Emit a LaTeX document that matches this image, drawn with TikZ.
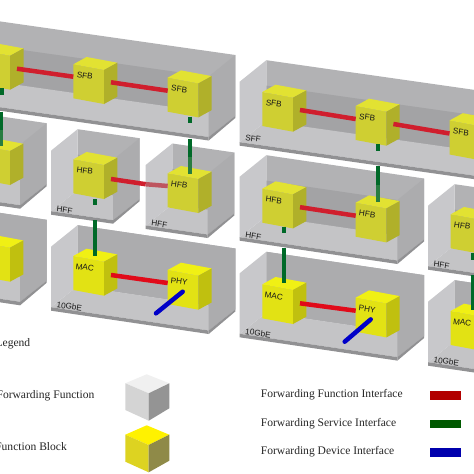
\documentclass[tikz,border=0pt]{standalone}
\usepackage{fontspec}
\setmainfont{Liberation Serif}
\newfontfamily\lblfont{Liberation Sans}
\usetikzlibrary{calc}
\definecolor{wallback}{RGB}{172,172,174}
\definecolor{wallband}{RGB}{163,163,165}
\definecolor{walltop}{RGB}{178,178,180}
\definecolor{wallleft}{RGB}{200,200,203}
\definecolor{floorc}{RGB}{196,196,198}
\definecolor{wallright}{RGB}{172,172,174}
\definecolor{stripc}{RGB}{145,145,147}
\definecolor{dullfront}{RGB}{207,207,50}
\definecolor{dulltop}{RGB}{226,226,50}
\definecolor{dullright}{RGB}{176,176,42}
\definecolor{brfront}{RGB}{226,226,20}
\definecolor{brtop}{RGB}{240,240,20}
\definecolor{brright}{RGB}{192,192,15}
\definecolor{barred}{RGB}{208,30,45}
\definecolor{barredb}{RGB}{225,10,25}
\definecolor{barredw}{RGB}{190,85,95}
\definecolor{bargreen}{RGB}{0,105,40}
\definecolor{bargreenl}{RGB}{40,125,65}
\definecolor{barblue}{RGB}{0,0,200}
\tikzset{
  redbar/.style={draw=barred,line width=4.5pt},
  redbarb/.style={draw=barredb,line width=4.5pt},
  redbarw/.style={draw=barredw,line width=4.5pt},
  greenbar/.style={draw=bargreen,line width=4.3pt},
  greenbarl/.style={draw=bargreenl,line width=4.3pt},
  bluebar/.style={draw=barblue,line width=4.5pt,line cap=round},
  cubelabel/.style={font=\lblfont\fontsize{8.2}{9}\selectfont,text=black!90,inner sep=0pt,rotate=-8},
  roomlabel/.style={font=\lblfont\fontsize{8.2}{9}\selectfont,text=black!90,inner sep=0pt,rotate=-8,anchor=west},
  legendtext/.style={font=\fontsize{11.55}{13}\selectfont,text=black!85,inner sep=0pt,anchor=base west},
}
\newcommand{\roomshape}[6]{%
  \coordinate (#1) at (#2,#3);
  \path
    coordinate (#1F) at (#1)
    coordinate (#1BLT) at ($(#1)+(26.6,-21.5)$)
    coordinate (#1BRT) at ($(#1)+(26.6,-21.5)+(#4,#5)$)
    coordinate (#1FRT) at ($(#1)+(#4,#5)$)
    coordinate (#1BLB) at ($(#1)+(26.6,39.5)$)
    coordinate (#1BRB) at ($(#1)+(26.6,39.5)+(#4,#5)$)
    coordinate (#1FLB) at ($(#1)+(0,64)$)
    coordinate (#1FRB) at ($(#1)+(0,64)+(#4,#5)$)
    coordinate (#1FLS) at ($(#1)+(0,60.5)$)
    coordinate (#1FRS) at ($(#1)+(0,60.5)+(#4,#5)$);
  \fill[walltop] (#1BLT)--(#1BRT)--(#1BRB)--(#1BLB)--cycle;
  \ifnum#6=1
    \fill[wallband] (#1BLT|-#1F) ++(0,3.9) -- ($(#1FRT)$) -- (#1FRT|-#1BRB) -- (#1BLB)--cycle;
  \else
    \fill[wallback] (#1BLT)--(#1BRT)--(#1BRB)--(#1BLB)--cycle;
  \fi
  \fill[floorc] (#1BLB)--(#1BRB)--(#1FRS)--(#1FLS)--cycle;
  \fill[wallright] (#1BRT)--(#1BRB)--(#1FRS)--(#1FRT)--cycle;
  \fill[wallleft] (#1F)--(#1BLT)--(#1BLB)--(#1FLS)--cycle;
  \fill[stripc] (#1FLS)--(#1FRS)--(#1FRB)--(#1FLB)--cycle;
  \fill[stripc] (#1FRS)--(#1BRB)--++(0,2)--(#1FRB)--cycle;
}
\newcommand{\cubeshape}[4]{%
  \coordinate (#1) at (#2,#3);
  \ifnum#4=1
    \def\cf{dullfront}\def\ct{dulltop}\def\cr{dullright}
  \else
    \def\cf{brfront}\def\ct{brtop}\def\cr{brright}
  \fi
  \fill[\cf] (#1) -- ++(30.7,5.7) -- ++(0,34) -- ++(-30.7,-5.7) -- cycle;
  \fill[\ct] (#1) -- ++(13.3,-7.3) -- ++(30.7,5.7) -- ++(-13.3,7.3) -- cycle;
  \fill[\cr] ($(#1)+(30.7,5.7)$) -- ++(13.3,-7.3) -- ++(0,34) -- ++(-13.3,7.3) -- cycle;
}
\begin{document}
\begin{tikzpicture}[x=1pt,y=-1pt]
\useasboundingbox (0,0) rectangle (474,474);
\clip (0,0) rectangle (474,474);
\fill[white] (0,0) rectangle (474,474);

% ---- rooms
\roomshape{rA}{-43.6}{40.5}{252.3}{36}{1}
\roomshape{rB}{-137.6}{121.4}{157.7}{23.3}{1}
\roomshape{rC}{-137.6}{218}{157.7}{23.3}{0}
\roomshape{rD}{51}{150.7}{62}{9}{1}
\roomshape{rE}{145.7}{165}{62}{9}{1}
\roomshape{rF}{51}{246.7}{157.7}{23.3}{0}
\roomshape{rG}{239.7}{81.7}{252.3}{36}{1}
\roomshape{rH}{239.7}{176.7}{157.7}{23.3}{1}
\roomshape{rI}{239.7}{273.3}{157.7}{23.3}{0}
\roomshape{rJ}{428}{205.7}{62}{9}{1}
\roomshape{rK}{428}{301.7}{157.7}{23.3}{0}

% ---- cubes
\cubeshape{a1}{-20.5}{50}{1}
\cubeshape{a2}{73.3}{64.3}{1}
\cubeshape{a3}{167.7}{77.7}{1}
\cubeshape{b1}{-20.7}{145.3}{1}
\cubeshape{c1}{-20.7}{242}{0}
\cubeshape{d1}{73.3}{159.3}{1}
\cubeshape{e1}{167.7}{173.3}{1}
\cubeshape{f1}{73.3}{256}{0}
\cubeshape{f2}{167.7}{270}{0}
\cubeshape{g1}{262.3}{92}{1}
\cubeshape{g2}{355.7}{106}{1}
\cubeshape{g3}{449.5}{120.5}{1}
\cubeshape{h1}{262.3}{188.7}{1}
\cubeshape{h2}{355.7}{202.7}{1}
\cubeshape{j1}{450.7}{214.3}{1}
\cubeshape{i1}{262.3}{284.3}{0}
\cubeshape{i2}{355.7}{297.7}{0}
\cubeshape{k1}{450.7}{311}{0}

% ---- red connectors
\draw[redbar] ($(a1)+(37.5,18.7)$) -- ($(a2)+(0,12.4)$);
\draw[redbar] ($(a2)+(37.7,18)$) -- ($(a3)+(0,13)$);
\draw[redbar] ($(g1)+(37.7,18)$) -- ($(g2)+(0,13)$);
\draw[redbar] ($(g2)+(37.7,18)$) -- ($(g3)+(0,13)$);
\draw[redbar] ($(d1)+(37.7,19.7)$) -- ($(d1)+(72.4,24.9)$);
\draw[redbarw] ($(d1)+(72.4,24.9)$) -- ($(e1)+(0,12.7)$);
\draw[redbar] ($(h1)+(37.7,18.5)$) -- ($(h2)+(0,13)$);
\draw[redbarb] ($(f1)+(37.7,19)$) -- ($(f2)+(0,13)$);
\draw[redbarb] ($(i1)+(37.7,19)$) -- ($(i2)+(0,13)$);

% ---- blue connectors
\draw[bluebar] ($(f2)+(15,21.7)$) -- ($(f2)+(-11.7,43.3)$);
\draw[bluebar] ($(i2)+(15,21.7)$) -- ($(i2)+(-11,44)$);

% ---- green connectors
\draw[greenbar] ($(a1)+(22,38)$) -- ++(0,7);
\draw[greenbar] ($(b1)+(22,-33.5)$) -- ($(b1)+(22,-15)$);
\draw[greenbarl] ($(b1)+(22,-15)$) -- ($(b1)+(22,0.7)$);
\draw[greenbar] ($(a3)+(22,39)$) -- ++(0,6.6);
\draw[greenbar] ($(e1)+(22,-34)$) -- ($(e1)+(22,-16)$);
\draw[greenbarl] ($(e1)+(22,-16)$) -- ($(e1)+(22,0.7)$);
\draw[greenbar] ($(d1)+(22,39.7)$) -- ++(0,6);
\draw[greenbar] ($(f1)+(22,-36)$) -- ($(f1)+(22,0)$);
\draw[greenbar] ($(g2)+(22,38.3)$) -- ++(0,6.7);
\draw[greenbar] ($(h2)+(22,-36.7)$) -- ($(h2)+(22,-17.7)$);
\draw[greenbarl] ($(h2)+(22,-17.7)$) -- ($(h2)+(22,-1)$);
\draw[greenbar] ($(h1)+(22,38)$) -- ++(0,6.3);
\draw[greenbar] ($(i1)+(22,-36)$) -- ($(i1)+(22,-1)$);
\draw[greenbar] ($(j1)+(22,39)$) -- ++(0,6.5);
\draw[greenbar] ($(k1)+(22,-36)$) -- ($(k1)+(22,-1)$);

% ---- cube labels
\foreach \n/\t in {a2/SFB,a3/SFB,g1/SFB,g2/SFB,g3/SFB,d1/HFB,e1/HFB,h1/HFB,h2/HFB,j1/HFB,f1/MAC,i1/MAC,k1/MAC,f2/PHY,i2/PHY}
  \node[cubelabel] (lab\n) at ($(\n)+(11.5,11.5)$) {\t};

% ---- room labels
\node[roomlabel] (lG) at ($(rG)+(5.5,56)$) {SFF};
\node[roomlabel] (lD) at ($(rD)+(5.5,58)$) {HFF};
\node[roomlabel] (lE) at ($(rE)+(5.5,58)$) {HFF};
\node[roomlabel] (lH) at ($(rH)+(5.5,58)$) {HFF};
\node[roomlabel] (lJ) at ($(rJ)+(5.5,58)$) {HFF};
\node[roomlabel] (lF) at ($(rF)+(5.5,58)$) {10GbE};
\node[roomlabel] (lI) at ($(rI)+(5.5,58)$) {10GbE};
\node[roomlabel] (lK) at ($(rK)+(5.5,58)$) {10GbE};

% ---- legend
\node[legendtext] (legT) at (-4.6,346) {Legend};
\node[legendtext] (leg1) at (-3.6,398) {Forwarding Function};
\node[legendtext] (leg2) at (-4.9,450) {Function Block};
\node[legendtext] (leg3) at (260.7,397.7) {Forwarding Function Interface};
\node[legendtext] (leg4) at (260.7,426) {Forwarding Service Interface};
\node[legendtext] (leg5) at (260.7,454.3) {Forwarding Device Interface};

\fill[black!6] (125.3,383.3)--(146.7,374.3)--(169.3,383.3)--(148.7,393.3)--cycle;
\fill[black!17] (125.3,383.3)--(148.7,393.3)--(148.7,420.7)--(125.3,410)--cycle;
\fill[black!42] (169.3,383.3)--(148.7,393.3)--(148.7,420.7)--(169.3,408.3)--cycle;
\fill[yellow] (125.3,434.7)--(146.7,425.3)--(169.3,434.7)--(148.7,445)--cycle;
\fill[yellow!85!black] (125.3,434.7)--(148.7,445)--(148.7,472.3)--(125.3,461.7)--cycle;
\fill[yellow!50!black] (169.3,434.7)--(148.7,445)--(148.7,472.3)--(169.3,460.7)--cycle;

\fill[red!70!black] (430,391.3) rectangle (461.3,400);
\fill[green!35!black] (430,420) rectangle (461.3,428.3);
\fill[blue!68!black] (430,448.3) rectangle (461.3,456.7);
\end{tikzpicture}
\end{document}
